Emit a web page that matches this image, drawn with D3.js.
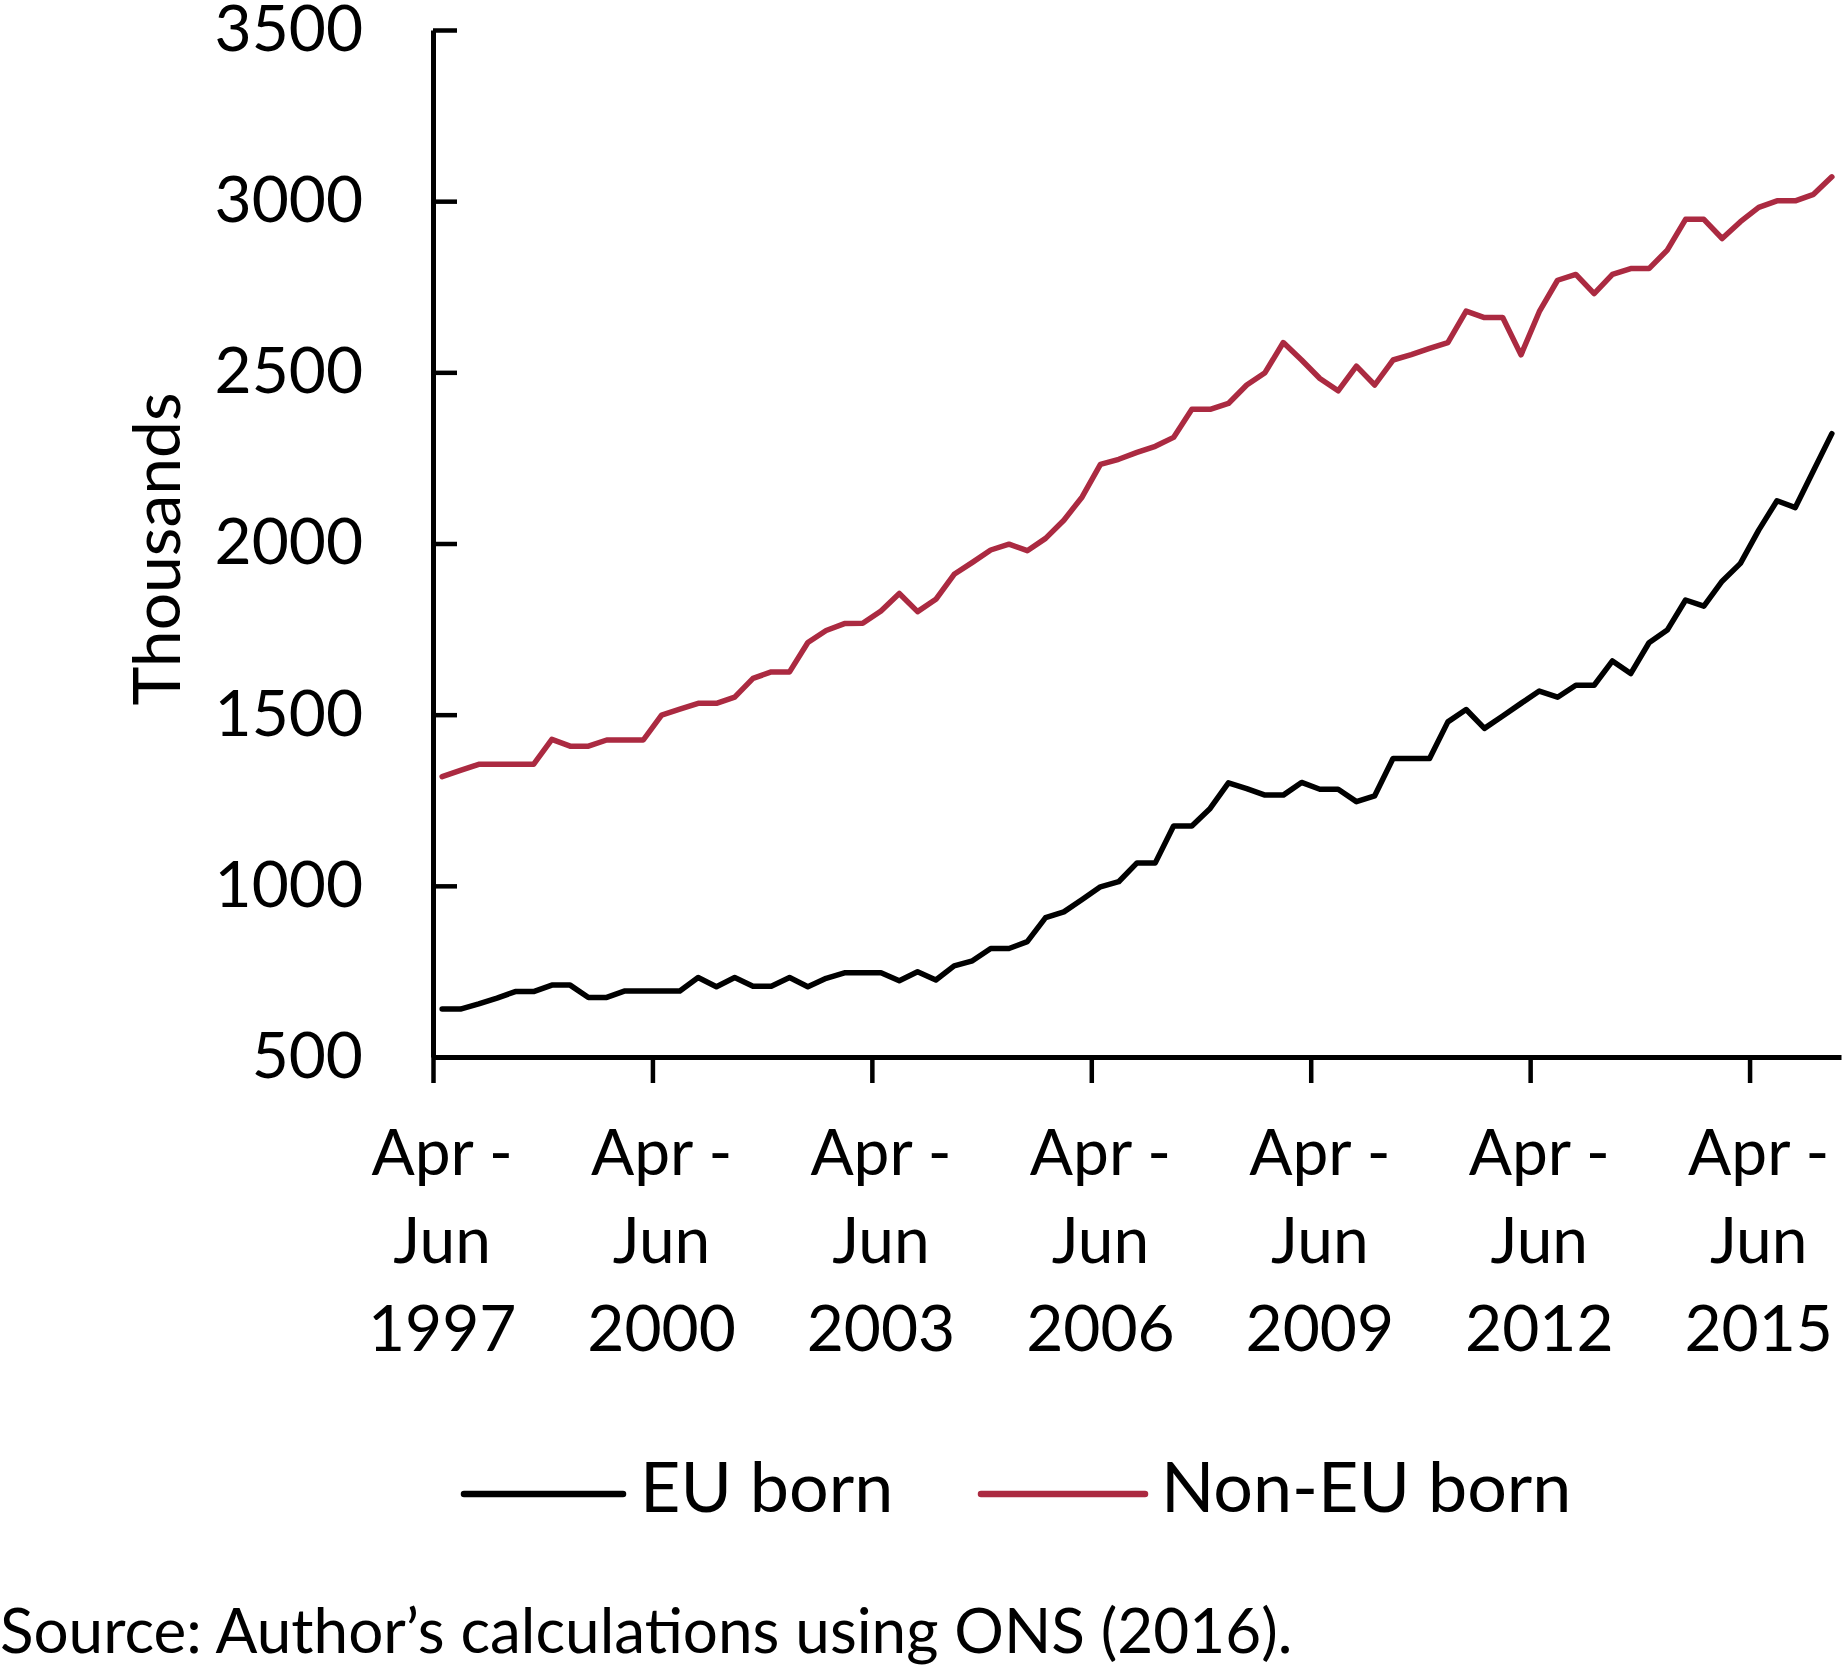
<!DOCTYPE html>
<html>
<head>
<meta charset="utf-8">
<script src="https://cdn.jsdelivr.net/npm/d3@7/dist/d3.min.js"></script>
<style>
  body { margin: 0; background: #fff; }
  svg { display: block; font-family: Lato, "Open Sans", sans-serif; }
</style>
</head>
<body>
<svg id="chart" width="1842" height="1669"></svg>
<script>
// Quarterly categories
const quarters = [
  "Apr-Jun 1997", "Jul-Sep 1997", "Oct-Dec 1997",
  "Jan-Mar 1998", "Apr-Jun 1998", "Jul-Sep 1998", "Oct-Dec 1998",
  "Jan-Mar 1999", "Apr-Jun 1999", "Jul-Sep 1999", "Oct-Dec 1999",
  "Jan-Mar 2000", "Apr-Jun 2000", "Jul-Sep 2000", "Oct-Dec 2000",
  "Jan-Mar 2001", "Apr-Jun 2001", "Jul-Sep 2001", "Oct-Dec 2001",
  "Jan-Mar 2002", "Apr-Jun 2002", "Jul-Sep 2002", "Oct-Dec 2002",
  "Jan-Mar 2003", "Apr-Jun 2003", "Jul-Sep 2003", "Oct-Dec 2003",
  "Jan-Mar 2004", "Apr-Jun 2004", "Jul-Sep 2004", "Oct-Dec 2004",
  "Jan-Mar 2005", "Apr-Jun 2005", "Jul-Sep 2005", "Oct-Dec 2005",
  "Jan-Mar 2006", "Apr-Jun 2006", "Jul-Sep 2006", "Oct-Dec 2006",
  "Jan-Mar 2007", "Apr-Jun 2007", "Jul-Sep 2007", "Oct-Dec 2007",
  "Jan-Mar 2008", "Apr-Jun 2008", "Jul-Sep 2008", "Oct-Dec 2008",
  "Jan-Mar 2009", "Apr-Jun 2009", "Jul-Sep 2009", "Oct-Dec 2009",
  "Jan-Mar 2010", "Apr-Jun 2010", "Jul-Sep 2010", "Oct-Dec 2010",
  "Jan-Mar 2011", "Apr-Jun 2011", "Jul-Sep 2011", "Oct-Dec 2011",
  "Jan-Mar 2012", "Apr-Jun 2012", "Jul-Sep 2012", "Oct-Dec 2012",
  "Jan-Mar 2013", "Apr-Jun 2013", "Jul-Sep 2013", "Oct-Dec 2013",
  "Jan-Mar 2014", "Apr-Jun 2014", "Jul-Sep 2014", "Oct-Dec 2014",
  "Jan-Mar 2015", "Apr-Jun 2015", "Jul-Sep 2015", "Oct-Dec 2015",
  "Jan-Mar 2016", "Apr-Jun 2016"
];

// Thousands of workers
const euBorn = [
  640, 640, 655, 672, 691, 691, 710, 710, 674, 674,
  693, 693, 693, 693, 732, 705, 732, 707, 707, 732,
  705, 730, 746, 746, 746, 723, 749, 725, 766, 781,
  817, 817, 837, 907, 924, 960, 997, 1012, 1067, 1067,
  1175, 1175, 1226, 1301, 1284, 1265, 1265, 1302, 1282, 1282,
  1246, 1263, 1372, 1372, 1372, 1479, 1515, 1460, 1496, 1533,
  1569, 1551, 1586, 1586, 1657, 1620, 1710, 1747, 1835, 1817,
  1890, 1942, 2039, 2125, 2105, 2213, 2321
];

const nonEuBorn = [
  1319, 1337, 1355, 1355, 1355, 1355, 1428, 1408, 1408, 1426,
  1426, 1426, 1499, 1516, 1533, 1533, 1551, 1606, 1625, 1625,
  1711, 1746, 1766, 1767, 1803, 1854, 1801, 1837, 1910, 1945,
  1981, 1998, 1979, 2015, 2068, 2136, 2231, 2246, 2266, 2284,
  2310, 2392, 2392, 2409, 2463, 2499, 2587, 2536, 2482, 2446,
  2518, 2463, 2536, 2552, 2570, 2587, 2679, 2660, 2660, 2551,
  2677, 2769, 2786, 2730, 2786, 2803, 2803, 2857, 2947, 2947,
  2891, 2940, 2982, 3001, 3001, 3020, 3071
];

const yTicks = [500, 1000, 1500, 2000, 2500, 3000, 3500];
const xTickQuarters = ["Apr-Jun 1997", "Apr-Jun 2000", "Apr-Jun 2003", "Apr-Jun 2006",
  "Apr-Jun 2009", "Apr-Jun 2012", "Apr-Jun 2015"];
const xTickLabels = [
  ["Apr -", "Jun", "1997"], ["Apr -", "Jun", "2000"], ["Apr -", "Jun", "2003"],
  ["Apr -", "Jun", "2006"], ["Apr -", "Jun", "2009"], ["Apr -", "Jun", "2012"],
  ["Apr -", "Jun", "2015"]
];

const seriesNames = ["EU born", "Non-EU born"];
const seriesColors = ["#000000", "#ab2a41"];

const svg = d3.select("#chart");
const plotLeft = 433, plotRight = 1841, plotTop = 30, plotBottom = 1057;

// index scale: each quarter is one slot, points sit in the middle of the slot
const x = d3.scaleLinear().domain([0, quarters.length]).range([plotLeft, plotRight]);
const y = d3.scaleLinear().domain([500, 3500]).range([plotBottom, plotTop]);

// Y axis, ticks pointing inwards
const yAxis = svg.append("g")
  .attr("transform", `translate(${plotLeft},0)`)
  .call(d3.axisLeft(y).tickValues(yTicks).tickFormat(d3.format("d"))
    .tickSizeInner(-24).tickSizeOuter(0).tickPadding(70));
yAxis.select(".domain").attr("stroke-width", 5);
yAxis.selectAll(".tick line").attr("stroke-width", 4.5);
yAxis.selectAll(".tick text")
  .attr("font-size", 64)
  .attr("font-family", "Lato")
  .attr("fill", "#000");

// X axis, ticks on the quarter boundaries
const tickIdx = xTickQuarters.map(q => quarters.indexOf(q));
const xAxis = svg.append("g")
  .attr("transform", `translate(0,${plotBottom})`)
  .call(d3.axisBottom(x).tickValues(tickIdx).tickSizeInner(26).tickSizeOuter(0).tickFormat(""));
xAxis.select(".domain").attr("stroke-width", 5);
xAxis.selectAll(".tick line").attr("stroke-width", 4.5);

const xLabels = svg.append("g").attr("font-size", 64).attr("text-anchor", "middle");
tickIdx.forEach((idx, k) => {
  const t = xLabels.append("text").attr("x", x(idx + 0.5)).attr("y", 1175);
  xTickLabels[k].forEach((line, j) => {
    t.append("tspan").attr("x", x(idx + 0.5)).attr("y", 1175 + j * 88).text(line);
  });
});

// Y title
svg.append("text")
  .attr("transform", "translate(180,549) rotate(-90)")
  .attr("text-anchor", "middle")
  .attr("font-size", 66)
  .text("Thousands");

// Lines
const line = d3.line()
  .x((d, i) => x(i + 0.5))
  .y(d => y(d));

[euBorn, nonEuBorn].forEach((s, k) => {
  svg.append("path")
    .datum(s)
    .attr("fill", "none")
    .attr("stroke", seriesColors[k])
    .attr("stroke-width", 5.5)
    .attr("stroke-linejoin", "round")
    .attr("stroke-linecap", "round")
    .attr("d", line);
});

// Legend
const legendItems = [
  { x1: 464, x2: 623, tx: 640 },
  { x1: 981, x2: 1145, tx: 1161 }
];
legendItems.forEach((it, k) => {
  svg.append("line")
    .attr("x1", it.x1).attr("x2", it.x2)
    .attr("y1", 1494).attr("y2", 1494)
    .attr("stroke", seriesColors[k])
    .attr("stroke-width", 6.5)
    .attr("stroke-linecap", "round");
  svg.append("text")
    .attr("x", it.tx).attr("y", 1512)
    .attr("font-size", 70)
    .text(seriesNames[k]);
});

// Source note
svg.append("text")
  .attr("x", 0).attr("y", 1653)
  .attr("font-size", 62)
  .text("Source: Author\u2019s calculations using ONS (2016).");
</script>
</body>
</html>
